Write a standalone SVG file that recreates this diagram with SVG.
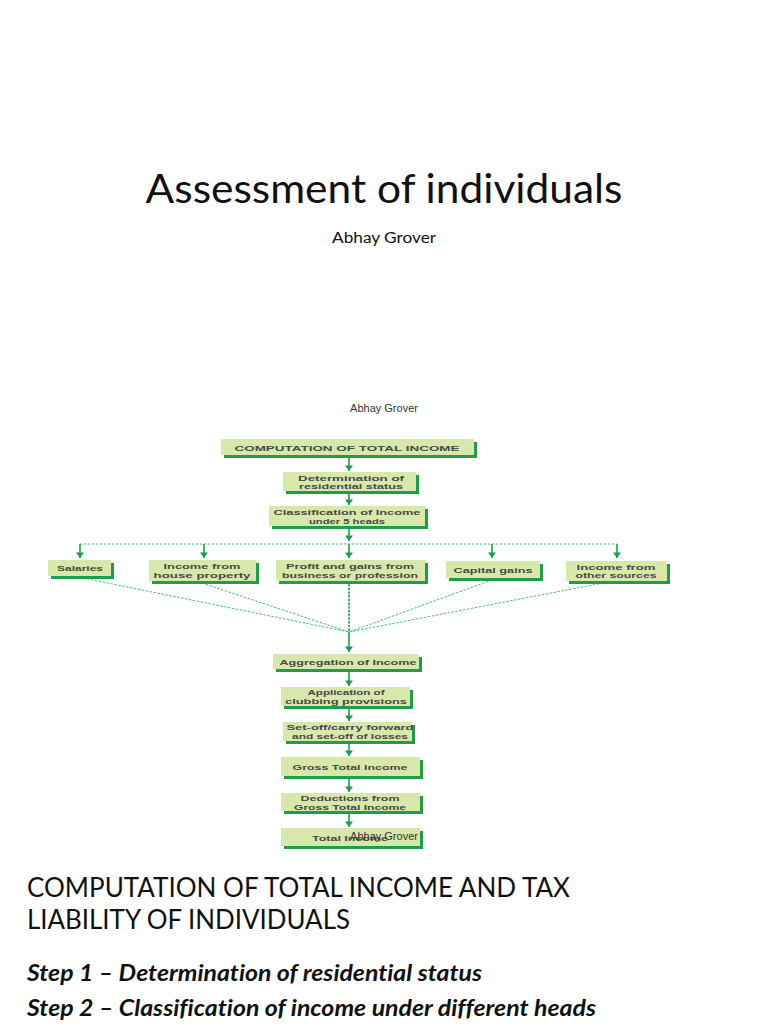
<svg xmlns="http://www.w3.org/2000/svg" width="768" height="1024" viewBox="0 0 768 1024">
<defs>
<style>
.bg{fill:#ffffff}
.sh{fill:#1e9e4a}
.bx{fill:#d8e8aa}
.bt{font-family:"Liberation Sans",Arial,sans-serif;font-weight:bold;font-size:8px;fill:#474747;text-anchor:middle}
.ar{stroke:#1e9e4a;stroke-width:1.6;fill:none}
.dl{stroke:#4cbb7a;stroke-width:1;stroke-dasharray:2.5 1.5;fill:none}
.dv{stroke:#1e9e4a;stroke-width:1.6;stroke-dasharray:2.5 1.2;fill:none}
.cal{font-family:Lato,"Open Sans","Liberation Sans",sans-serif;fill:#111;font-variant-ligatures:none}
.wm{font-family:"Liberation Sans",Arial,sans-serif;font-size:11px;fill:#333;text-anchor:middle}
</style>
<marker id="ad" markerUnits="userSpaceOnUse" markerWidth="10" markerHeight="8" refX="7" refY="5" orient="auto" viewBox="0 0 8 10">
<path d="M0,0 L7,5 L0,10 Z" fill="#1e9e4a"/>
</marker>
</defs>
<rect class="bg" x="0" y="0" width="768" height="1024"/>

<g id="title">
<text class="cal" x="384" y="203" font-size="41" text-anchor="middle" textLength="477" lengthAdjust="spacingAndGlyphs">Assessment of individuals</text>
<text class="cal" x="384" y="243" font-size="15.5" text-anchor="middle" fill="#222" textLength="104" lengthAdjust="spacingAndGlyphs">Abhay Grover</text>
</g>

<g id="watermark-top">
<text class="wm" x="384" y="412">Abhay Grover</text>
</g>

<g id="connectors">
<line class="ar" x1="349" y1="457" x2="349" y2="471" marker-end="url(#ad)"/>
<line class="ar" x1="349" y1="494" x2="349" y2="505" marker-end="url(#ad)"/>
<line class="ar" x1="349" y1="528" x2="349" y2="541" marker-end="url(#ad)"/>
<line class="dl" x1="80" y1="544" x2="617" y2="544"/>
<line class="ar" x1="80" y1="544" x2="80" y2="558" marker-end="url(#ad)"/>
<line class="ar" x1="204" y1="544" x2="204" y2="558" marker-end="url(#ad)"/>
<line class="ar" x1="349" y1="544" x2="349" y2="558" marker-end="url(#ad)"/>
<line class="ar" x1="492" y1="544" x2="492" y2="558" marker-end="url(#ad)"/>
<line class="ar" x1="617" y1="544" x2="617" y2="558" marker-end="url(#ad)"/>
<line class="dl" x1="83" y1="578" x2="349" y2="632"/>
<line class="dl" x1="202" y1="583" x2="349" y2="632"/>
<line class="dl" x1="492" y1="580" x2="349" y2="632"/>
<line class="dl" x1="603" y1="583" x2="349" y2="632"/>
<line class="dv" x1="349" y1="584" x2="349" y2="632"/>
<line class="ar" x1="349" y1="632" x2="349" y2="652" marker-end="url(#ad)"/>
<line class="ar" x1="349" y1="671" x2="349" y2="686" marker-end="url(#ad)"/>
<line class="ar" x1="349" y1="708" x2="349" y2="721" marker-end="url(#ad)"/>
<line class="ar" x1="349" y1="743" x2="349" y2="756" marker-end="url(#ad)"/>
<line class="ar" x1="349" y1="778" x2="349" y2="792" marker-end="url(#ad)"/>
<line class="ar" x1="349" y1="813" x2="349" y2="827" marker-end="url(#ad)"/>
</g>

<g id="n-computation">
<rect class="sh" x="224" y="442" width="253" height="16"/>
<rect class="bx" x="221" y="439" width="253" height="16"/>
<text class="bt" x="347" y="450.5" font-size="8.5" textLength="225" lengthAdjust="spacingAndGlyphs">COMPUTATION OF TOTAL INCOME</text>
</g>
<g id="n-determination">
<rect class="sh" x="286" y="475" width="133" height="19"/>
<rect class="bx" x="283" y="472" width="133" height="19"/>
<text class="bt" x="351" y="480.5" textLength="106" lengthAdjust="spacingAndGlyphs">Determination of</text>
<text class="bt" x="351" y="489" textLength="104" lengthAdjust="spacingAndGlyphs">residential status</text>
</g>
<g id="n-classification">
<rect class="sh" x="272" y="509" width="156" height="20"/>
<rect class="bx" x="269" y="506" width="156" height="20"/>
<text class="bt" x="347" y="515" textLength="147" lengthAdjust="spacingAndGlyphs">Classification of Income</text>
<text class="bt" x="347" y="523.5" textLength="76" lengthAdjust="spacingAndGlyphs">under 5 heads</text>
</g>
<g id="n-salaries">
<rect class="sh" x="51" y="563" width="63" height="16"/>
<rect class="bx" x="48" y="560" width="63" height="16"/>
<text class="bt" x="80" y="571" textLength="46" lengthAdjust="spacingAndGlyphs">Salaries</text>
</g>
<g id="n-house">
<rect class="sh" x="152" y="563" width="107" height="21"/>
<rect class="bx" x="149" y="560" width="107" height="21"/>
<text class="bt" x="202" y="569" textLength="77" lengthAdjust="spacingAndGlyphs">Income from</text>
<text class="bt" x="202" y="577.5" textLength="97" lengthAdjust="spacingAndGlyphs">house property</text>
</g>
<g id="n-business">
<rect class="sh" x="279" y="563" width="149" height="21"/>
<rect class="bx" x="276" y="560" width="149" height="21"/>
<text class="bt" x="350" y="569" textLength="128" lengthAdjust="spacingAndGlyphs">Profit and gains from</text>
<text class="bt" x="350" y="577.5" textLength="136" lengthAdjust="spacingAndGlyphs">business or profession</text>
</g>
<g id="n-capital">
<rect class="sh" x="449" y="564" width="94" height="17"/>
<rect class="bx" x="446" y="561" width="94" height="17"/>
<text class="bt" x="493" y="572.5" textLength="79" lengthAdjust="spacingAndGlyphs">Capital gains</text>
</g>
<g id="n-other">
<rect class="sh" x="569" y="564" width="101" height="20"/>
<rect class="bx" x="566" y="561" width="101" height="20"/>
<text class="bt" x="616" y="569.5" textLength="79" lengthAdjust="spacingAndGlyphs">Income from</text>
<text class="bt" x="616" y="578" textLength="81" lengthAdjust="spacingAndGlyphs">other sources</text>
</g>
<g id="n-aggregation">
<rect class="sh" x="276" y="657" width="146" height="15"/>
<rect class="bx" x="273" y="654" width="146" height="15"/>
<text class="bt" x="348" y="664.5" textLength="137" lengthAdjust="spacingAndGlyphs">Aggregation of Income</text>
</g>
<g id="n-clubbing">
<rect class="sh" x="284" y="690" width="129" height="19"/>
<rect class="bx" x="281" y="687" width="129" height="19"/>
<text class="bt" x="346" y="695" textLength="77" lengthAdjust="spacingAndGlyphs">Application of</text>
<text class="bt" x="346" y="703.5" textLength="122" lengthAdjust="spacingAndGlyphs">clubbing provisions</text>
</g>
<g id="n-setoff">
<rect class="sh" x="286" y="725" width="129" height="19"/>
<rect class="bx" x="283" y="722" width="129" height="19"/>
<text class="bt" x="350" y="730" textLength="127" lengthAdjust="spacingAndGlyphs">Set-off/carry forward</text>
<text class="bt" x="350" y="738.5" textLength="116" lengthAdjust="spacingAndGlyphs">and set-off of losses</text>
</g>
<g id="n-gti">
<rect class="sh" x="284" y="760" width="139" height="19"/>
<rect class="bx" x="281" y="757" width="139" height="19"/>
<text class="bt" x="350" y="769.5" textLength="115" lengthAdjust="spacingAndGlyphs">Gross Total Income</text>
</g>
<g id="n-deductions">
<rect class="sh" x="284" y="796" width="139" height="18"/>
<rect class="bx" x="281" y="793" width="139" height="18"/>
<text class="bt" x="350" y="801" textLength="99" lengthAdjust="spacingAndGlyphs">Deductions from</text>
<text class="bt" x="350" y="809.5" textLength="112" lengthAdjust="spacingAndGlyphs">Gross Total Income</text>
</g>
<g id="n-total">
<rect class="sh" x="284" y="831" width="139" height="18"/>
<rect class="bx" x="281" y="828" width="139" height="18"/>
<text class="bt" x="350" y="840.5" textLength="76" lengthAdjust="spacingAndGlyphs">Total Income</text>
</g>

<g id="watermark-bottom">
<text class="wm" x="384" y="839.5" font-size="12" fill="#222">Abhay Grover</text>
</g>

<g id="bottom-text">
<text class="cal" x="27" y="897" font-size="26" textLength="543" lengthAdjust="spacingAndGlyphs">COMPUTATION OF TOTAL INCOME AND TAX</text>
<text class="cal" x="27" y="929" font-size="26" textLength="323" lengthAdjust="spacingAndGlyphs">LIABILITY OF INDIVIDUALS</text>
<text class="cal" x="27" y="981" font-size="23" font-weight="bold" font-style="italic" textLength="455" lengthAdjust="spacingAndGlyphs">Step 1 – Determination of residential status</text>
<text class="cal" x="27" y="1016" font-size="23" font-weight="bold" font-style="italic" textLength="569" lengthAdjust="spacingAndGlyphs">Step 2 – Classification of income under different heads</text>
</g>
</svg>
